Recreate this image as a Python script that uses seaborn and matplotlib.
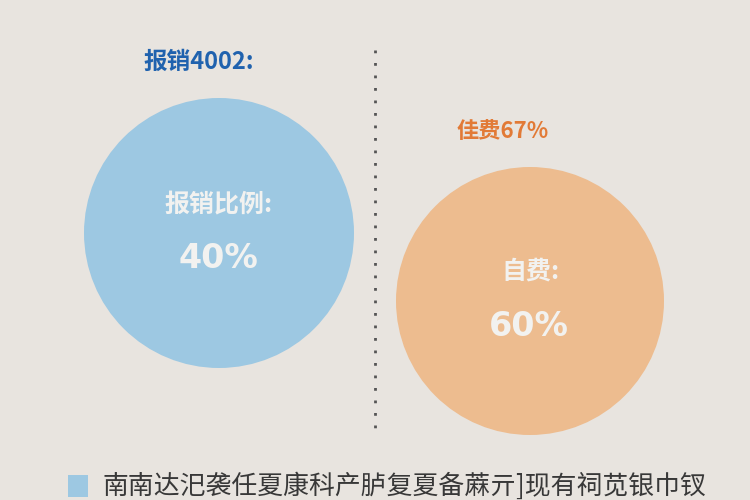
import matplotlib
matplotlib.use("Agg")
import matplotlib.pyplot as plt
import seaborn as sns
from matplotlib.patches import Circle, Rectangle

# data
groups = ["报销", "自费"]
shares = [40, 60]
inner_titles = ["报销比例:", "自费:"]
top_labels = ["报销4002:", "佳费67%"]
legend_text = "南南达汜袭任夏康科产胪复夏备蔴亓]现有祠苋银巾钗"

colors = {
    'bg': '#E8E4DF',
    'blue': '#9DC8E2',
    'orange': '#EDBC8F',
    'blue_text': '#2062AE',
    'orange_text': '#E27A36',
    'inner_text': '#F2F2F0',
    'legend_text': '#383838',
    'divider': '#555555',
}

sns.set_theme(style="white")
plt.rcParams['font.family'] = ['Noto Sans CJK SC', 'DejaVu Sans']

fig = plt.figure(figsize=(7.5, 5), dpi=100, facecolor=colors['bg'])
ax = fig.add_axes([0, 0, 1, 1])
ax.set_facecolor(colors['bg'])
ax.set_xlim(0, 750)
ax.set_ylim(500, 0)
ax.set_aspect('equal')
ax.axis('off')

# layout for the two circles (center x, center y, radius)
layout = [(219, 233, 135), (530, 301, 134)]
fills = [colors['blue'], colors['orange']]
label_colors = [colors['blue_text'], colors['orange_text']]
label_pos = [(199, 62), (503, 132)]
label_sizes = [17, 16]

for i, (cx, cy, r) in enumerate(layout):
    ax.add_patch(Circle((cx, cy), r, facecolor=fills[i], edgecolor='none'))
    ax.text(cx, cy - 28 if i == 0 else cy - 29, inner_titles[i], ha='center', va='center',
            fontsize=18, fontweight='bold', color=colors['inner_text'])
    ax.text(cx - 1, cy + 25, f"{shares[i]}%", ha='center', va='center',
            fontsize=24, fontweight='bold', color=colors['inner_text'],
            family=['DejaVu Sans'])
    ax.text(label_pos[i][0], label_pos[i][1], top_labels[i], ha='center', va='center',
            fontsize=label_sizes[i], fontweight='bold', color=label_colors[i])

# dotted divider
ax.plot([375, 375], [50, 428], linestyle=(0, (1, 3.5)), linewidth=2,
        color=colors['divider'])

# legend
ax.add_patch(Rectangle((68, 475), 20, 22, facecolor=colors['blue'], edgecolor='none'))
ax.text(102, 486, legend_text, ha='left', va='center', fontsize=18.6,
        color=colors['legend_text'])

plt.savefig('out.png', dpi=100, facecolor=colors['bg'])
plt.close()
